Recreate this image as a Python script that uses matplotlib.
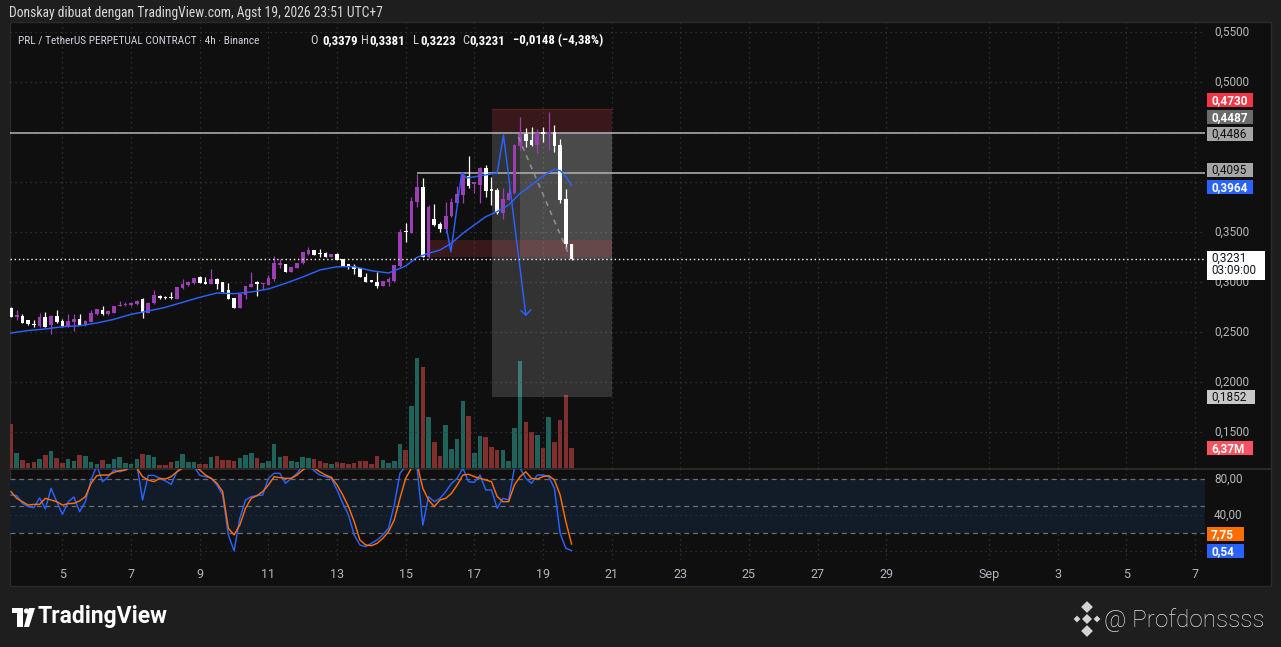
import numpy as np
import matplotlib.pyplot as plt
from matplotlib import font_manager as fm
from matplotlib.patches import Rectangle, Polygon
from matplotlib.transforms import blended_transform_factory

plt.rcParams['font.family'] = ['Roboto', 'DejaVu Sans']
avail = {f.name for f in fm.fontManager.ttflist}
narrow = next((n for n in ['Liberation Sans Narrow', 'Roboto Condensed'] if n in avail), 'Roboto')

W, H = 1281, 647

# ---- 4h candles PRL/USDT perp (Aug 3 .. Aug 19) ----
opens = [0.2743, 0.2655, 0.2663, 0.2620, 0.2577, 0.2563, 0.2647, 0.2570, 0.2660, 0.2613,
         0.2553, 0.2600, 0.2630, 0.2570, 0.2603, 0.2680, 0.2720, 0.2680, 0.2693, 0.2763,
         0.2767, 0.2767, 0.2780, 0.2830, 0.2693, 0.2787, 0.2860, 0.2853, 0.2843, 0.2830,
         0.2937, 0.2970, 0.2987, 0.3047, 0.3003, 0.2980, 0.3027, 0.2997, 0.2920, 0.2843,
         0.2737, 0.2870, 0.2953, 0.2990, 0.2980, 0.2970, 0.3027, 0.3175, 0.3180, 0.3103,
         0.3143, 0.3187, 0.3280, 0.3320, 0.3285, 0.3287, 0.3253, 0.3280, 0.3227, 0.3170,
         0.3160, 0.3137, 0.3053, 0.3020, 0.3003, 0.2963, 0.2997, 0.3010, 0.3160, 0.3510,
         0.3493, 0.3803, 0.3953, 0.3247, 0.3627, 0.3580, 0.3527, 0.3663, 0.3793, 0.3870,
         0.4060, 0.3985, 0.3970, 0.4137, 0.3920, 0.3920, 0.3693, 0.3820, 0.3887, 0.4360,
         0.4480, 0.4420, 0.4370, 0.4490, 0.4480, 0.4500, 0.4370, 0.3830, 0.3379]
highs = [0.2750, 0.2720, 0.2680, 0.2625, 0.2620, 0.2687, 0.2703, 0.2670, 0.2720, 0.2627,
         0.2680, 0.2680, 0.2680, 0.2620, 0.2720, 0.2730, 0.2760, 0.2720, 0.2760, 0.2813,
         0.2803, 0.2800, 0.2820, 0.2837, 0.2800, 0.2920, 0.2870, 0.2860, 0.2900, 0.2947,
         0.3027, 0.3010, 0.3040, 0.3060, 0.3047, 0.3130, 0.3037, 0.3000, 0.2987, 0.2845,
         0.2877, 0.2960, 0.3097, 0.3010, 0.2990, 0.3070, 0.3260, 0.3227, 0.3185, 0.3150,
         0.3195, 0.3303, 0.3353, 0.3325, 0.3327, 0.3303, 0.3282, 0.3290, 0.3230, 0.3177,
         0.3177, 0.3140, 0.3087, 0.3022, 0.3097, 0.3015, 0.3053, 0.3175, 0.3527, 0.3593,
         0.3853, 0.4077, 0.4037, 0.3770, 0.3777, 0.3603, 0.3797, 0.3837, 0.3960, 0.4103,
         0.4260, 0.4003, 0.4153, 0.4170, 0.4053, 0.3937, 0.3937, 0.3937, 0.4380, 0.4653,
         0.4537, 0.4553, 0.4527, 0.4547, 0.4703, 0.4570, 0.4427, 0.3927, 0.3381]
lows = [0.2650, 0.2620, 0.2587, 0.2570, 0.2547, 0.2553, 0.2553, 0.2480, 0.2593, 0.2553,
        0.2553, 0.2513, 0.2570, 0.2565, 0.2600, 0.2675, 0.2673, 0.2675, 0.2690, 0.2760,
        0.2763, 0.2760, 0.2775, 0.2643, 0.2690, 0.2780, 0.2835, 0.2828, 0.2830, 0.2830,
        0.2927, 0.2965, 0.2985, 0.2987, 0.2980, 0.2978, 0.2930, 0.2903, 0.2830, 0.2737,
        0.2737, 0.2830, 0.2950, 0.2863, 0.2930, 0.2968, 0.3013, 0.3143, 0.3103, 0.3100,
        0.3140, 0.3185, 0.3270, 0.3270, 0.3253, 0.3253, 0.3250, 0.3220, 0.3163, 0.3127,
        0.3077, 0.3053, 0.2997, 0.2997, 0.2937, 0.2960, 0.2963, 0.3005, 0.3153, 0.3403,
        0.3487, 0.3753, 0.3247, 0.3237, 0.3560, 0.3503, 0.3487, 0.3653, 0.3770, 0.3787,
        0.3937, 0.3887, 0.3787, 0.3853, 0.3770, 0.3680, 0.3627, 0.3820, 0.3885, 0.4320,
        0.4353, 0.4360, 0.4287, 0.4403, 0.4320, 0.4303, 0.3793, 0.3327, 0.3223]
closes = [0.2653, 0.2670, 0.2593, 0.2577, 0.2570, 0.2647, 0.2553, 0.2660, 0.2603, 0.2560,
          0.2613, 0.2633, 0.2570, 0.2610, 0.2687, 0.2727, 0.2680, 0.2713, 0.2760, 0.2767,
          0.2780, 0.2793, 0.2815, 0.2687, 0.2793, 0.2870, 0.2837, 0.2840, 0.2837, 0.2947,
          0.2980, 0.3003, 0.3037, 0.2987, 0.2983, 0.3027, 0.2980, 0.2903, 0.2830, 0.2737,
          0.2877, 0.2960, 0.2977, 0.2985, 0.2987, 0.3043, 0.3187, 0.3180, 0.3103, 0.3147,
          0.3193, 0.3303, 0.3320, 0.3270, 0.3278, 0.3253, 0.3280, 0.3220, 0.3163, 0.3165,
          0.3127, 0.3053, 0.3003, 0.2997, 0.2963, 0.3013, 0.3027, 0.3170, 0.3503, 0.3497,
          0.3810, 0.3953, 0.3247, 0.3747, 0.3570, 0.3530, 0.3660, 0.3803, 0.3880, 0.4070,
          0.3963, 0.3990, 0.4137, 0.3913, 0.3915, 0.3693, 0.3830, 0.3887, 0.4370, 0.4480,
          0.4413, 0.4370, 0.4487, 0.4485, 0.4500, 0.4360, 0.3820, 0.3379, 0.3231]
volumes = [14.0, 4.8, 2.5, 1.6, 1.9, 2.9, 4.1, 5.4, 3.2, 1.7,
           2.9, 2.2, 4.1, 3.8, 1.9, 1.3, 2.5, 1.3, 2.9, 3.5,
           1.6, 1.3, 2.9, 4.5, 4.1, 3.5, 1.0, 1.0, 1.9, 2.2,
           4.5, 1.9, 1.9, 1.3, 1.3, 3.5, 3.8, 2.5, 2.5, 2.2,
           3.2, 4.1, 4.8, 3.2, 1.6, 2.2, 7.6, 3.5, 3.8, 2.2,
           1.9, 3.5, 3.2, 2.9, 2.2, 1.6, 1.3, 1.9, 1.6, 1.3,
           1.6, 2.2, 2.2, 1.3, 3.8, 2.5, 1.6, 2.2, 7.6, 5.7,
           19.7, 35.0, 32.2, 16.2, 8.3, 3.8, 13.7, 6.1, 9.2, 21.3,
           16.6, 4.8, 10.2, 9.9, 6.7, 5.7, 5.7, 2.2, 12.7, 34.1,
           14.6, 11.5, 10.5, 6.4, 16.2, 8.3, 15.3, 23.2, 6.37]  # millions

# EMA at these candle numbers
ema_idx = [0, 3, 6, 9, 12, 15, 18, 21, 24, 27, 30, 33, 36, 39, 42, 45, 48, 51, 54, 57,
           60, 63, 66, 69, 71, 73, 75, 77, 79, 81, 83, 85, 87, 89, 91, 93, 95, 96, 97, 98]
ema_vals = [0.2490, 0.2515, 0.2530, 0.2553, 0.2563, 0.2590, 0.2627, 0.2677, 0.2710, 0.2747,
            0.2797, 0.2847, 0.2890, 0.2883, 0.2900, 0.2930, 0.2987, 0.3050, 0.3120, 0.3153,
            0.3153, 0.3113, 0.3090, 0.3160, 0.3247, 0.3287, 0.3320, 0.3387, 0.3487, 0.3570,
            0.3653, 0.3705, 0.3770, 0.3887, 0.3970, 0.4060, 0.4127, 0.4113, 0.4053, 0.3964]

stoch_k = [62.2, 61.5, 53, 49.3, 48.1, 59, 46.7, 69.6, 54.8, 40.7,
           54.8, 60, 43.7, 54.8, 78.9, 95, 77, 82.6, 90, 88,
           90, 93, 96, 56.7, 84, 84, 80.7, 77.8, 74, 88,
           94, 96, 94, 84, 82.6, 80.7, 73.3, 62.2, 17.8, 0,
           36.3, 56.7, 60.4, 61.5, 62.2, 80.7, 86.3, 86.3, 75.2, 80.7,
           86.3, 94, 96, 89, 84.4, 82.6, 80.7, 67.8, 53, 40,
           17.8, 6.7, 4.8, 8.5, 12.2, 17.8, 25.2, 51, 86.3, 94,
           94, 92, 28.9, 60.4, 54.8, 58.5, 66, 75, 80.7, 92,
           77, 76.3, 84.4, 67.8, 67.8, 47.4, 58.5, 56.7, 92, 92,
           80.7, 75.2, 84.4, 84.4, 82.6, 69.6, 19.6, 3, 0.54]
stoch_d = [66, 58.5, 54.8, 51, 51.8, 51.8, 58.5, 56.7, 54.8, 51,
           52.6, 53, 55.6, 60.4, 75.2, 83.7, 84.4, 84.4, 87.4, 89.3,
           90, 94, 92, 82.6, 78.9, 77, 80.7, 80, 82.6, 88,
           92, 94, 94, 90, 84.4, 80.7, 75.2, 66, 25.2, 17.8,
           28.9, 47.4, 58.5, 61.5, 66, 73.3, 82.6, 81.5, 80.7, 80.7,
           84.4, 90, 94, 92, 88, 84.4, 81.9, 73.3, 62.2, 49.3,
           32.6, 12.2, 6.7, 5.9, 8.5, 14, 21.5, 34.4, 58.5, 80.7,
           92, 96, 69.6, 56.7, 49.3, 56.7, 58.5, 64, 73.3, 84.4,
           85.2, 82.6, 80.7, 78.9, 77, 60.4, 54.8, 54.8, 73.3, 82.6,
           88, 80.7, 80, 82.6, 83.7, 78.9, 62.2, 32.6, 7.75]

# drawings on the chart (candle number, price)
path_x = [76.2, 76.9, 78.8, 79.7, 85.0, 86.1, 90.0]
path_y = [0.352, 0.330, 0.409, 0.404, 0.409, 0.447, 0.267]
proj_x = [88.7, 97.7]
proj_y = [0.445, 0.325]
hline_full = 0.4486
hline_part = 0.4095
stop_price, entry_price, target_price = 0.4730, 0.4487, 0.1852
zone_price = (0.3253, 0.3420)

day_ticks = [5, 7, 9, 11, 13, 15, 17, 19, 21, 23, 25, 27, 29, 32, 34, 36, 38]
day_labels = ['5', '7', '9', '11', '13', '15', '17', '19', '21', '23', '25', '27', '29',
              'Sep', '3', '5', '7']
price_ticks = [0.55, 0.50, 0.35, 0.30, 0.25, 0.20, 0.15]


def fmt(v, n=4):
    return f"{v:.{n}f}".replace('.', ',')


def px_rect(x0, y0, x1, y1):
    return [x0 / W, 1 - y1 / H, (x1 - x0) / W, (y1 - y0) / H]


fig = plt.figure(figsize=(W / 100, H / 100), dpi=100)
fig.patch.set_facecolor('#1e1e1e')

bg = fig.add_axes([0, 0, 1, 1], zorder=0)
bg.set_xlim(0, W); bg.set_ylim(H, 0); bg.axis('off')
bg.add_patch(Rectangle((10, 22), 1261, 564, fc='#0f0f0f', ec='#2a2a2a', lw=1))
bg.plot([10, 1271], [469, 469], color='#2f2f2f', lw=1.2)

main_rect = px_rect(10, 22, 1205, 468)
ax_vol = fig.add_axes(main_rect, zorder=1)
ax = fig.add_axes(main_rect, zorder=2)
ax_st = fig.add_axes(px_rect(10, 469, 1205, 560), zorder=2)
ov = fig.add_axes([0, 0, 1, 1], zorder=5)
ov.set_xlim(0, W); ov.set_ylim(H, 0); ov.axis('off')

x0, x1 = -0.175, 208.74
tick_idx = [93 + (d - 19) * 6 for d in day_ticks]
for a in (ax_vol, ax, ax_st):
    a.set_facecolor('none')
    a.set_xlim(x0, x1)
    for s in a.spines.values():
        s.set_visible(False)
    a.set_yticks([])
ax.set_xticks([]); ax_vol.set_xticks([])
ax.set_ylim(0.114, 0.560)
ax_vol.set_ylim(0, 142)
ax_st.set_ylim(-10, 91.1)

grid_kw = dict(color='#363636', lw=0.9, ls=(0, (1, 3)), zorder=0)
for t in tick_idx:
    ax.axvline(t, **grid_kw)
    ax_st.axvline(t, **grid_kw)
for p in [0.15, 0.20, 0.25, 0.30, 0.35, 0.40, 0.45, 0.50, 0.55]:
    ax.axhline(p, **grid_kw)

# volume
o = np.array(opens); h = np.array(highs); l = np.array(lows); c = np.array(closes)
idx = np.arange(len(c))
up = c >= o
ax_vol.bar(idx, volumes, width=0.8, color=np.where(up, '#1f625a', '#7f2f2e'), lw=0)

# short position tool + zone
ax.add_patch(Rectangle((84.1, entry_price), 21.0, stop_price - entry_price,
                       fc='#e04040', alpha=0.2, lw=0, zorder=1))
ax.plot([84.1, 105.1], [stop_price, stop_price], color='#5a1e22', lw=1, zorder=1)
ax.add_patch(Rectangle((84.1, target_price), 21.0, entry_price - target_price,
                       fc='white', alpha=0.15, lw=0, zorder=1))
ax.add_patch(Rectangle((89.0, closes[-1]), 16.1, entry_price - closes[-1],
                       fc='white', alpha=0.12, lw=0, zorder=1))
ax.add_patch(Rectangle((73.3, zone_price[0]), 31.8, zone_price[1] - zone_price[0],
                       fc='#e04040', alpha=0.2, lw=0, zorder=1.5))

ax.axhline(hline_full, color='#a8a8a8', lw=1.2, zorder=2)
ax.hlines(hline_part, 71, x1, color='#a8a8a8', lw=1.2, zorder=2)

# candles
cols = np.where(up, '#9c3fb4', '#ffffff')
ax.vlines(idx, l, h, colors=cols, lw=0.9, zorder=3)
body = np.maximum(np.abs(c - o), 0.0012)
ax.bar(idx, body, bottom=np.minimum(o, c), width=0.64, color=cols, lw=0, zorder=3)

ax.plot(ema_idx, ema_vals, color='#2962ff', lw=1.05, zorder=4)
ax.plot(path_x, path_y, color='#2962ff', lw=1.05, zorder=4)
ax.plot([89.17, path_x[-1], 90.86], [0.2713, path_y[-1], 0.2720], color='#2962ff', lw=1.05, zorder=4)
ax.plot(proj_x, proj_y, color='#8c8c8c', lw=1.2, ls=(0, (3, 3)), zorder=4)
ax.axhline(closes[-1], color='white', lw=1, ls=(0, (1, 2)), zorder=4)

# stochastic rsi
ax_st.axhspan(20, 80, color='#111c28', lw=0, zorder=0)
for lv in (80, 50, 20):
    ax_st.axhline(lv, color='#6e6e6e', lw=0.9, ls=(0, (4, 3)), zorder=1)
for lv in (40, 0):
    ax_st.axhline(lv, **grid_kw)
ax_st.plot(idx, stoch_k, color='#2962ff', lw=1.05, zorder=3)
ax_st.plot(idx, stoch_d, color='#ff6d00', lw=1.05, zorder=3)
ax_st.set_xticks(tick_idx)
ax_st.set_xticklabels(day_labels)
ax_st.tick_params(axis='x', length=0, pad=6, labelcolor='#b2b5be', labelsize=9)

# price scale
tr = blended_transform_factory(ax.transAxes, ax.transData)
for p in price_ticks:
    ax.text(1.0075, p, fmt(p), transform=tr, color='#b8b8b8', fontsize=8.5, va='center')
trs = blended_transform_factory(ax_st.transAxes, ax_st.transData)
for lv in (80, 40):
    ax_st.text(1.0075, lv, fmt(lv, 2), transform=trs, color='#b8b8b8', fontsize=8.5, va='center')


def tag(y, text, fc, tc, w=46, bold=True):
    ov.add_patch(Rectangle((1207, y - 7), w, 14, fc=fc, ec='none', zorder=6))
    ov.text(1211, y + 0.5, text, color=tc, fontsize=8.5, va='center', zorder=7,
            fontweight='bold' if bold else 'normal')


tag(100, fmt(stop_price), '#f23645', 'white')
tag(117, fmt(entry_price), '#6b6b6b', 'white')
tag(134, fmt(hline_full), '#a6a6a6', '#111111', bold=False)
tag(170, fmt(hline_part), '#a6a6a6', '#111111', bold=False)
tag(187, fmt(ema_vals[-1]), '#2962ff', 'white')
tag(397, fmt(target_price), '#c8c8c8', '#111111', w=48, bold=False)
tag(448, fmt(volumes[-1], 2) + 'M', '#f7525f', 'white')
tag(534, fmt(stoch_d[-1], 2), '#ff6d00', 'white', w=37)
tag(551, fmt(stoch_k[-1], 2), '#2962ff', 'white', w=37)
ov.add_patch(Rectangle((1207, 251), 58, 29, fc='white', ec='none', zorder=6))
ov.text(1211, 258.5, fmt(closes[-1]), color='#131722', fontsize=8.5, va='center', zorder=7)
ov.text(1211, 271, '03:09:00', color='#131722', fontsize=8.5, va='center', zorder=7)

# header texts
ov.text(9, 13, 'Donskay dibuat dengan TradingView.com, Agst 19, 2026 23:51 UTC+7',
        color='#d9d9d9', fontsize=9.8, va='center', family=narrow)
pieces = [(18, 'PRL / TetherUS PERPETUAL CONTRACT · 4h · Binance', '#d1d4dc', 'normal', 8.2),
          (310, 'O', '#d1d4dc', 'normal', 9), (322, fmt(opens[-1]), 'white', 'bold', 9.3),
          (361, 'H', '#d1d4dc', 'normal', 9), (369, fmt(highs[-1]), 'white', 'bold', 9.3),
          (413, 'L', '#d1d4dc', 'normal', 9), (420, fmt(lows[-1]), 'white', 'bold', 9.3),
          (462, 'C', '#d1d4dc', 'normal', 9), (469, fmt(closes[-1]), 'white', 'bold', 9.3),
          (513, '\u2212' + fmt(abs(closes[-1] - opens[-1])) + ' (\u2212'
           + fmt(abs(closes[-1] / opens[-1] - 1) * 100, 2) + '%)', 'white', 'bold', 9.3)]
for px, s, col, wt, fs in pieces:
    ov.text(px, 41, s, color=col, fontsize=fs, fontweight=wt, va='center', family=narrow)

# footer
ov.add_patch(Polygon([(12, 608), (23, 608), (23, 627), (17, 627), (17, 613), (12, 613)],
                     closed=True, fc='white', ec='none'))
ov.add_patch(plt.Circle((26.5, 611), 2.6, fc='white', ec='none'))
ov.add_patch(Polygon([(29, 608), (35, 608), (29, 627), (24, 627)], closed=True, fc='white', ec='none'))
ov.text(38, 617, 'TradingView', color='white', fontsize=16.5, fontweight='bold', va='center')
ov.scatter([1087, 1087, 1087, 1077, 1097], [619, 607, 631, 619, 619], marker='D',
           s=[26, 36, 36, 12, 12], color='#d4d4d4', lw=0)
ov.text(1104, 620, '@ Profdonssss', color='#e0e0e0', fontsize=17.5, fontweight='light',
        va='center')

fig.savefig('out.png', dpi=100, facecolor=fig.get_facecolor())
